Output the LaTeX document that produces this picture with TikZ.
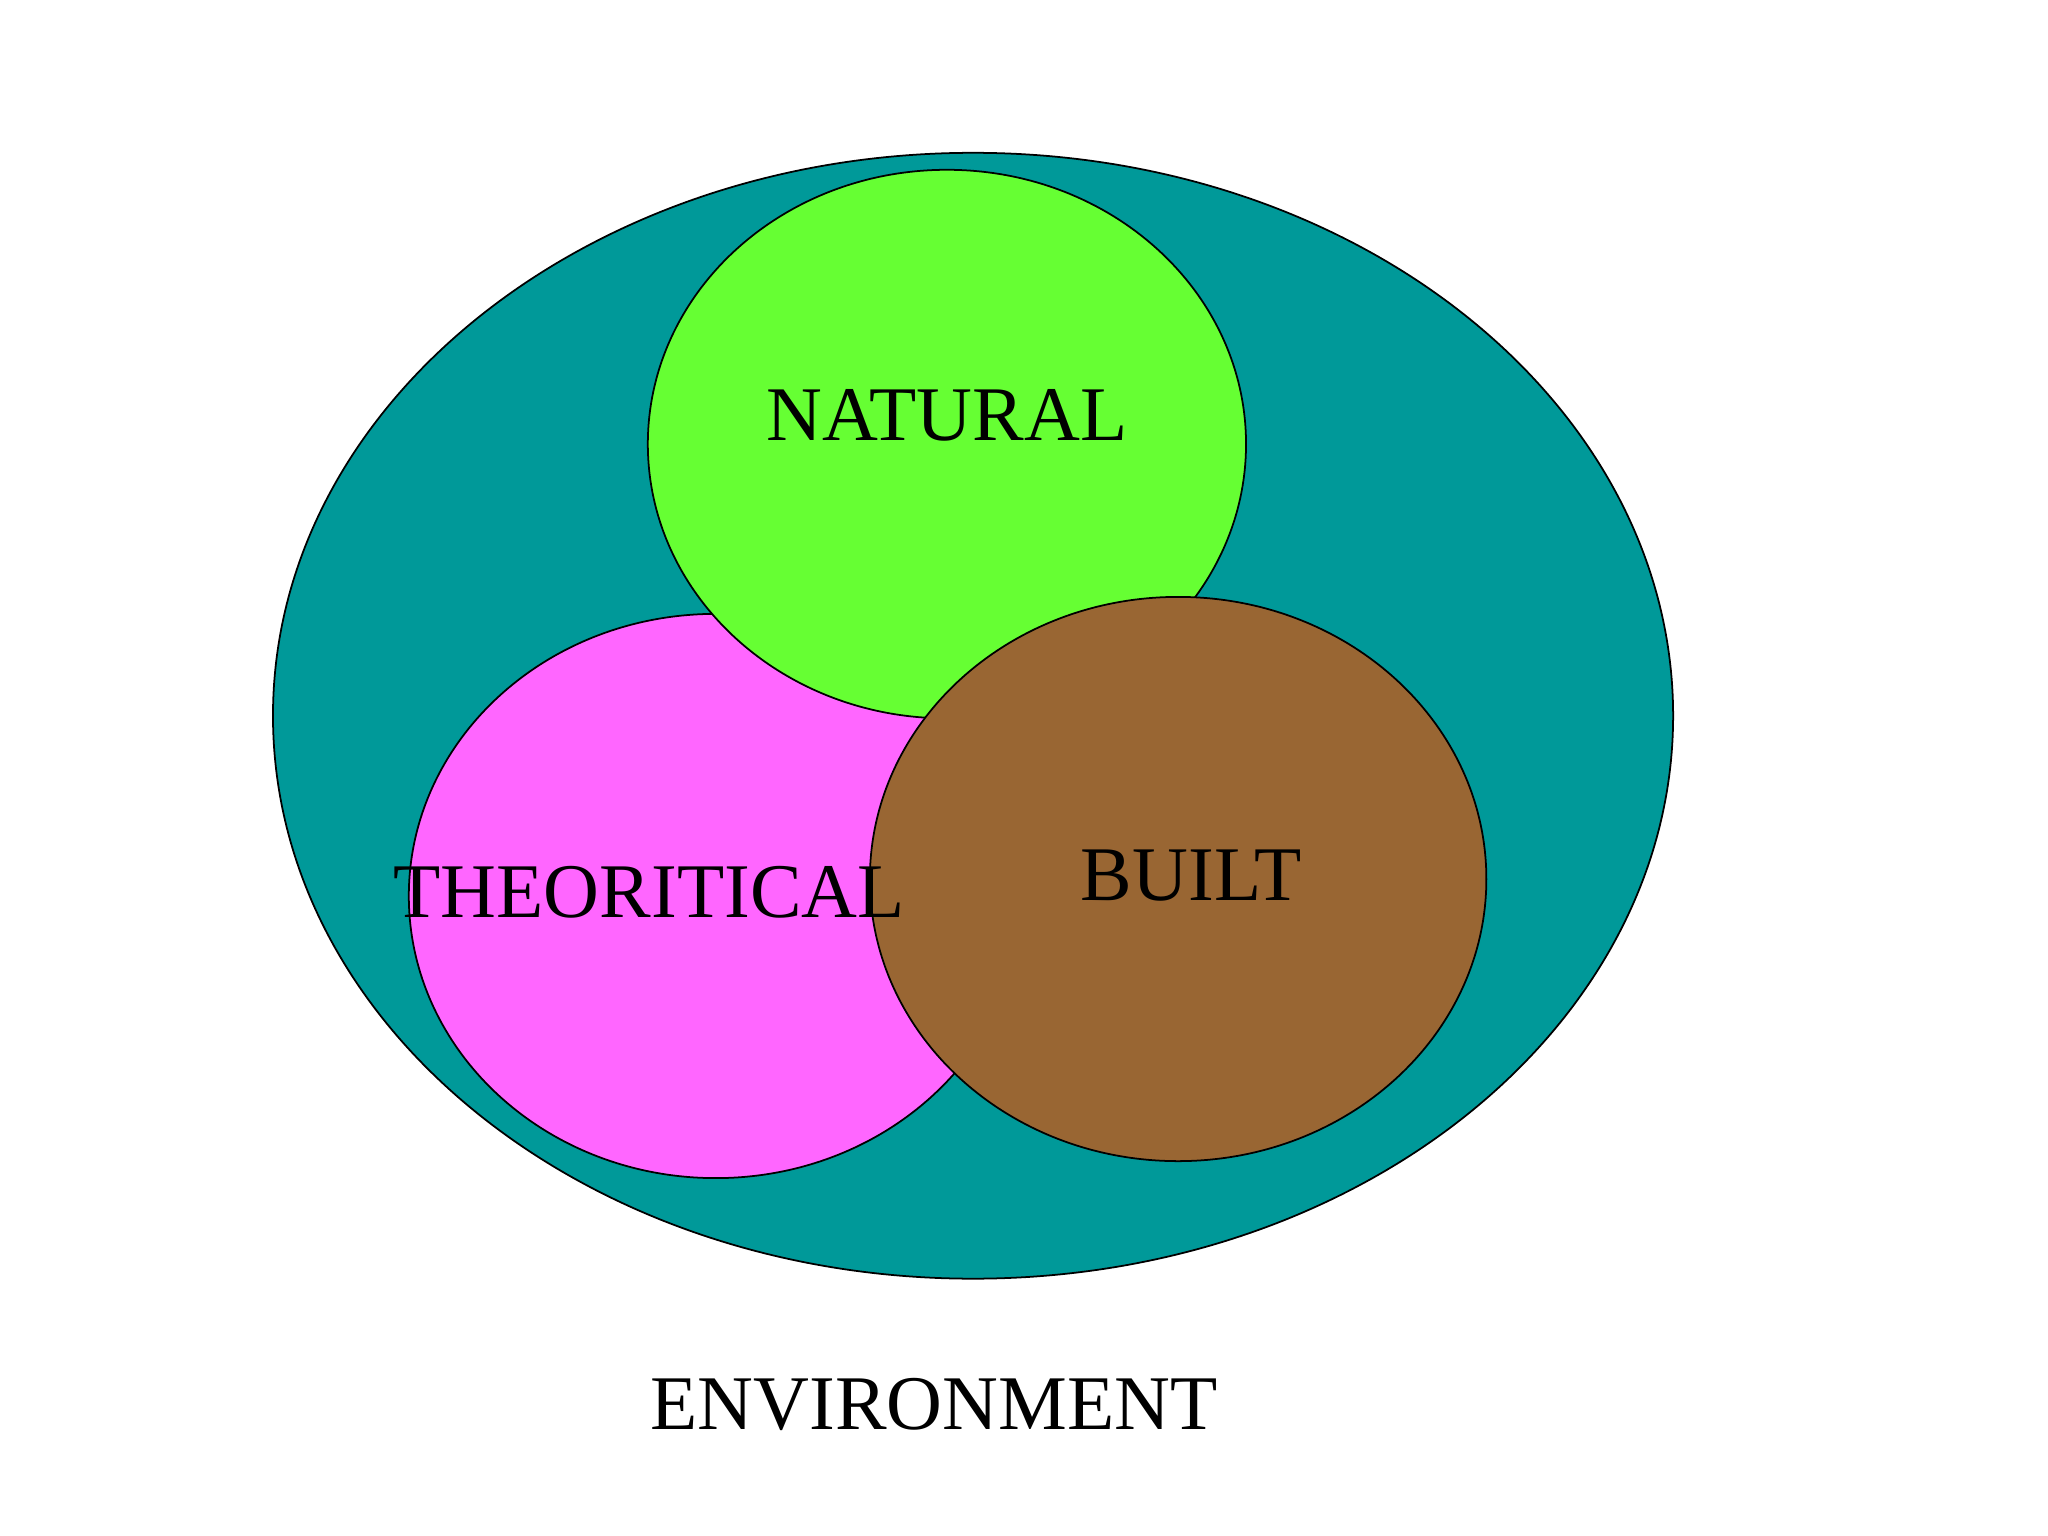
\documentclass[tikz,border=0pt]{standalone}
\usepackage{fontspec}
\setmainfont{Liberation Serif}
\begin{document}
\begin{tikzpicture}[x=0.01306cm,y=-0.01306cm,
  blob/.style={draw=black,line width=0.5pt},
  lab/.style={font=\fontsize{22}{26}\selectfont,text=black}]
\useasboundingbox (0,0) rectangle (1568,1176);
\fill[white] (0,0) rectangle (1568,1176);
\path[blob,fill={rgb,255:red,0;green,153;blue,153}] (745,548) ellipse [x radius=536,y radius=431];
\path[blob,fill={rgb,255:red,255;green,102;blue,255}] (548,686) ellipse [x radius=235,y radius=216];
\path[blob,fill={rgb,255:red,102;green,255;blue,51}] (725,340) ellipse [x radius=229,y radius=210];
\path[blob,fill={rgb,255:red,153;green,102;blue,51}] (902,673) ellipse [x radius=236,y radius=216];
\node[lab] (nat) at (725,318) {NATURAL};
\node[lab] (theo) at (497,683) {THEORITICAL};
\node[lab] (built) at (912,670) {BUILT};
\node[lab] (env) at (715,1075) {ENVIRONMENT};
\end{tikzpicture}
\end{document}
